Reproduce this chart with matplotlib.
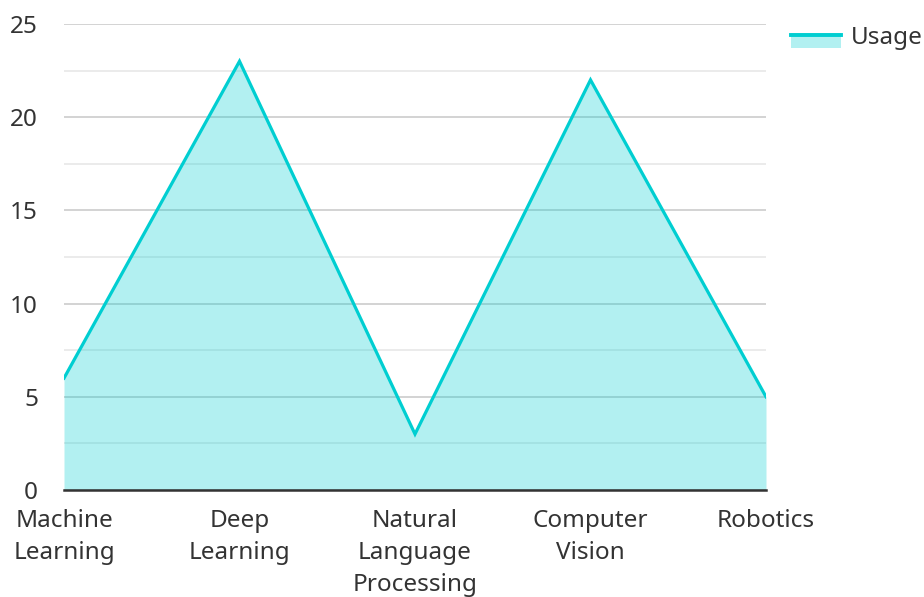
import matplotlib
matplotlib.use("Agg")
import matplotlib.pyplot as plt
from matplotlib.legend_handler import HandlerBase
from matplotlib.patches import Rectangle
from matplotlib.lines import Line2D

categories = ["Machine\nLearning", "Deep\nLearning", "Natural\nLanguage\nProcessing", "Computer\nVision", "Robotics"]
usage = [6, 23, 3, 22, 5]
yticks = [0, 5, 10, 15, 20, 25]
series_name = "Usage"

line_color = "#00CED1"
plt.rcParams['font.family'] = ['Noto Sans', 'DejaVu Sans']
FS = 17.5

fig = plt.figure(figsize=(9.24, 5.97), dpi=100)
ax = fig.add_axes([64/924, 1-490/597, (766-64)/924, (490-24)/597])

x = list(range(len(categories)))
ax.fill_between(x, usage, 0, color=line_color, alpha=0.3, linewidth=0, zorder=2)
ax.plot(x, usage, color=line_color, linewidth=2.3, zorder=3, solid_joinstyle='miter')

ax.set_xlim(0, len(categories) - 1)
ax.set_ylim(0, 25)
ax.set_yticks(yticks)
ax.set_yticks([2.5, 7.5, 12.5, 17.5, 22.5], minor=True)
ax.grid(True, which='major', axis='y', color='#cccccc', linewidth=1.2, zorder=1)
ax.grid(True, which='minor', axis='y', color='#e8e8e8', linewidth=1.2, zorder=1)
ax.set_axisbelow(True)
ax.set_xticks(x)
ax.set_xticklabels(categories, fontsize=FS, color='#333333', linespacing=1.46)
ax.tick_params(axis='x', length=0, pad=13.5)
ax.tick_params(axis='y', which='both', length=0, pad=18.7, labelsize=FS, labelcolor='#333333')
for s in ['top', 'right', 'left']:
    ax.spines[s].set_visible(False)
ax.spines['bottom'].set_color('#333333')
ax.spines['bottom'].set_linewidth(1.8)
ax.spines['bottom'].set_zorder(4)


class AreaHandler(HandlerBase):
    def create_artists(self, legend, orig_handle, xdescent, ydescent, width, height, fontsize, trans):
        y0 = -ydescent - height * 0.2
        h = height * 0.88
        r = Rectangle((-xdescent, y0), width, h,
                      facecolor=line_color, alpha=0.3, edgecolor='none', transform=trans)
        yl = y0 + h - 1.4
        l = Line2D([-xdescent, -xdescent + width], [yl, yl], color=line_color, linewidth=2.8, transform=trans)
        return [r, l]


handle = Line2D([], [], color=line_color)
leg = fig.legend([handle], [series_name], handler_map={Line2D: AreaHandler()},
                 loc='upper left', bbox_to_anchor=(791/924, 1-26.5/597), frameon=False,
                 fontsize=FS, handlelength=2.06, handletextpad=0.41, borderpad=0, borderaxespad=0)
for t in leg.get_texts():
    t.set_color('#333333')

fig.savefig("out.png", dpi=100)
